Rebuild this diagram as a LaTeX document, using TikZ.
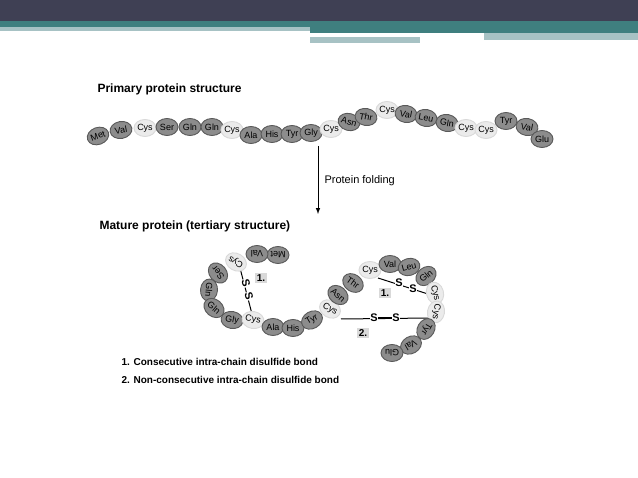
\documentclass[tikz,border=0pt]{standalone}
\usepackage{fontspec}
\setmainfont{Liberation Sans}
\usetikzlibrary{shapes.geometric}
\begin{document}
\begin{tikzpicture}[x=1pt,y=-1pt,
 dk/.style={ellipse,draw=black!65,line width=0.9pt,fill=black!45,inner sep=0pt,minimum width=22pt,minimum height=17pt,font=\fontsize{9}{9}\selectfont},
 lt/.style={ellipse,draw=black!15,line width=0.9pt,fill=black!8,inner sep=0pt,minimum width=22pt,minimum height=17pt,font=\fontsize{9}{9}\selectfont},
 ttl/.style={anchor=west,font=\bfseries\fontsize{12}{12}\selectfont},
 lab/.style={fill=black!15,inner sep=1.5pt,font=\bfseries\fontsize{10}{10}\selectfont},
 leg/.style={anchor=west,font=\bfseries\fontsize{10}{10}\selectfont},
 sl/.style={font=\bfseries\fontsize{11}{11}\selectfont,inner sep=0.5pt,fill=white}]
\path[use as bounding box] (0,0) rectangle (638,478);
\fill[fill=white] (0,0) rectangle (638,478);
\fill[fill={rgb,255:red,63;green,64;blue,84}] (0,0) rectangle (638,21);
\fill[fill={rgb,255:red,63;green,127;blue,127}] (0,21) rectangle (638,27);
\fill[fill={rgb,255:red,167;green,194;blue,196}] (0,27) rectangle (310,31);
\fill[fill={rgb,255:red,63;green,127;blue,127}] (310,27) rectangle (638,33);
\fill[fill={rgb,255:red,167;green,194;blue,196}] (484,33) rectangle (638,40);
\fill[fill={rgb,255:red,167;green,194;blue,196}] (310,37) rectangle (420,43);
\node[ttl] (t1) at (94,89) {Primary protein structure};
% primary chain
\node[dk,rotate=20] (p1) at (98,136) {Met};
\node[dk,rotate=10] (p2) at (121,130) {Val};
\node[lt] (p3) at (145,128) {Cys};
\node[dk] (p4) at (167,127) {Ser};
\node[dk] (p5) at (190,127) {Gln};
\node[dk] (p6) at (212,127) {Gln};
\node[lt] (p7) at (232,130) {Cys};
\node[dk] (p8) at (251,135) {Ala};
\node[dk] (p9) at (272,134) {His};
\node[dk] (p10) at (292,134) {Tyr};
\node[dk] (p11) at (311,133) {Gly};
\node[lt] (p12) at (331,129) {Cys};
\node[dk,rotate=-15] (p13) at (349,122) {Asn};
\node[dk,rotate=-10] (p14) at (366,117) {Thr};
\node[lt] (p15) at (387,110) {Cys};
\node[dk,rotate=-10] (p16) at (406,114) {Val};
\node[dk,rotate=-10] (p17) at (426,118) {Leu};
\node[dk,rotate=-10] (p18) at (447,123) {Gln};
\node[lt] (p19) at (466,128) {Cys};
\node[lt] (p20) at (486,130) {Cys};
\node[dk] (p21) at (506,121) {Tyr};
\node[dk,rotate=-10] (p22) at (527,127) {Val};
\node[dk] (p23) at (542,139) {Glu};
% folding arrow
\coordinate (a1) at (318,146);
\coordinate (a2) at (318,214);
\draw[line width=1pt,-latex] (a1) -- (a2);
\node[anchor=west,font=\fontsize{11}{11}\selectfont] (pf) at (321,181) {Protein folding};
\node[ttl] (t2) at (96,226) {Mature protein (tertiary structure)};
% mature left
\draw[line width=1pt] (240,268) coordinate (l1) -- (252,314) coordinate (l2);
\node[sl,rotate=-75] (s1) at (246,283) {S};
\node[sl,rotate=-75] (s2) at (249,296) {S};
\node[lab] (n1) at (261,278) {1.};
\node[dk,rotate=180] (m1) at (278,255) {Met};
\node[dk,rotate=180] (m2) at (257,254) {Val};
\node[lt,rotate=150] (m3) at (236,262) {Cys};
\node[dk,rotate=130] (m4) at (218,273) {Ser};
\node[dk,rotate=-95] (m5) at (209,290) {Gln};
\node[dk,rotate=-40] (m6) at (214,308) {Gln};
\node[dk,rotate=-10] (m7) at (232,320) {Gly};
\node[lt,rotate=-10] (m8) at (253,320) {Cys};
\node[dk] (m9) at (273,327) {Ala};
\node[dk] (m10) at (293,328) {His};
\node[dk,rotate=30] (m11) at (312,320) {Tyr};
\node[lt,rotate=-30] (m12) at (330,309) {Cys};
\node[dk,rotate=-40] (m13) at (338,295) {Asn};
\node[dk,rotate=-35] (m14) at (353,283) {Thr};
% right SS bonds
\draw[line width=1pt] (378,278) coordinate (r1) -- (428,294) coordinate (r2);
\node[sl] (s3) at (399,283) {S};
\node[sl] (s4) at (413,289) {S};
\node[lab] (n2) at (385,293) {1.};
\draw[line width=1pt] (341,319) coordinate (r3) -- (430,318) coordinate (r4);
\node[sl] (s5) at (374,318) {S};
\node[sl] (s6) at (396,318) {S};
\draw[line width=1pt] (s5) -- (s6);
\node[lab] (n3) at (363,333) {2.};
\node[lt] (m15) at (370,270) {Cys};
\node[dk] (m16) at (390,264) {Val};
\node[dk,rotate=15] (m17) at (409,267) {Leu};
\node[dk,rotate=40] (m18) at (426,276) {Gln};
\node[lt,rotate=-75] (m19) at (435,293) {Cys};
\node[lt,rotate=-100] (m20) at (436,312) {Cys};
\node[dk,rotate=-120] (m21) at (426,329) {Tyr};
\node[dk,rotate=-150] (m22) at (411,345) {Val};
\node[dk,rotate=180] (m23) at (392,353) {Glu};
\node[leg] (g1) at (118,362) {1. Consecutive intra-chain disulfide bond};
\node[leg] (g2) at (118,380) {2. Non-consecutive intra-chain disulfide bond};
\end{tikzpicture}
\end{document}
